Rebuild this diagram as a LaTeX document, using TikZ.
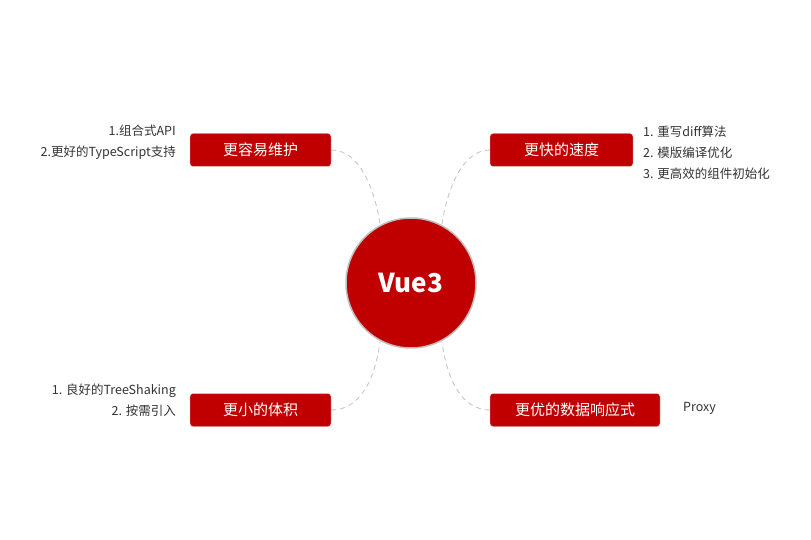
\documentclass[tikz,border=0pt]{standalone}
\usepackage{fontspec}
\setmainfont{Noto Sans CJK SC}
\definecolor{vred}{HTML}{C00000}
\begin{document}
\begin{tikzpicture}[x=1pt,y=-1pt,
  box/.style={fill=vred,rounded corners=3pt,text=white,font=\fontsize{15}{18}\selectfont,inner sep=0pt,minimum height=33pt,draw=black!15},
  link/.style={draw=black!22,dashed,line width=0.9pt,dash pattern=on 5pt off 4pt},
  note/.style={font=\fontsize{12.5}{21}\selectfont,text=black!80,inner sep=0pt}]
\useasboundingbox (0,0) rectangle (811,540);
\node[circle,fill=vred,draw=black!25,line width=1.5pt,minimum size=130pt,text=white,font=\fontsize{26}{30}\selectfont\bfseries] (c) at (411,283) {Vue3};
\node[box,minimum width=141pt] (a) at (260.5,150) {更容易维护};
\node[box,minimum width=143pt] (b) at (561.5,150) {更快的速度};
\node[box,minimum width=141pt] (d) at (260.5,410) {更小的体积};
\node[box,minimum width=170pt] (e) at (575,410) {更优的数据响应式};
\draw[link] (a.east) .. controls (360,150) and (375,190) .. (c.118);
\draw[link] (b.west) .. controls (462,150) and (447,190) .. (c.62);
\draw[link] (d.east) .. controls (360,410) and (375,380) .. (c.242);
\draw[link] (e.west) .. controls (462,410) and (447,380) .. (c.298);
\node[note,align=right,anchor=east] (ta) at (176,142) {1.组合式API\\2.更好的TypeScript支持};
\node[note,align=left,anchor=west] (tb) at (643,153) {1. 重写diff算法\\2. 模版编译优化\\3. 更高效的组件初始化};
\node[note,align=right,anchor=east] (td) at (176,400) {1. 良好的TreeShaking\\2. 按需引入};
\node[note,anchor=west] (te) at (683,408) {Proxy};
\end{tikzpicture}
\end{document}
